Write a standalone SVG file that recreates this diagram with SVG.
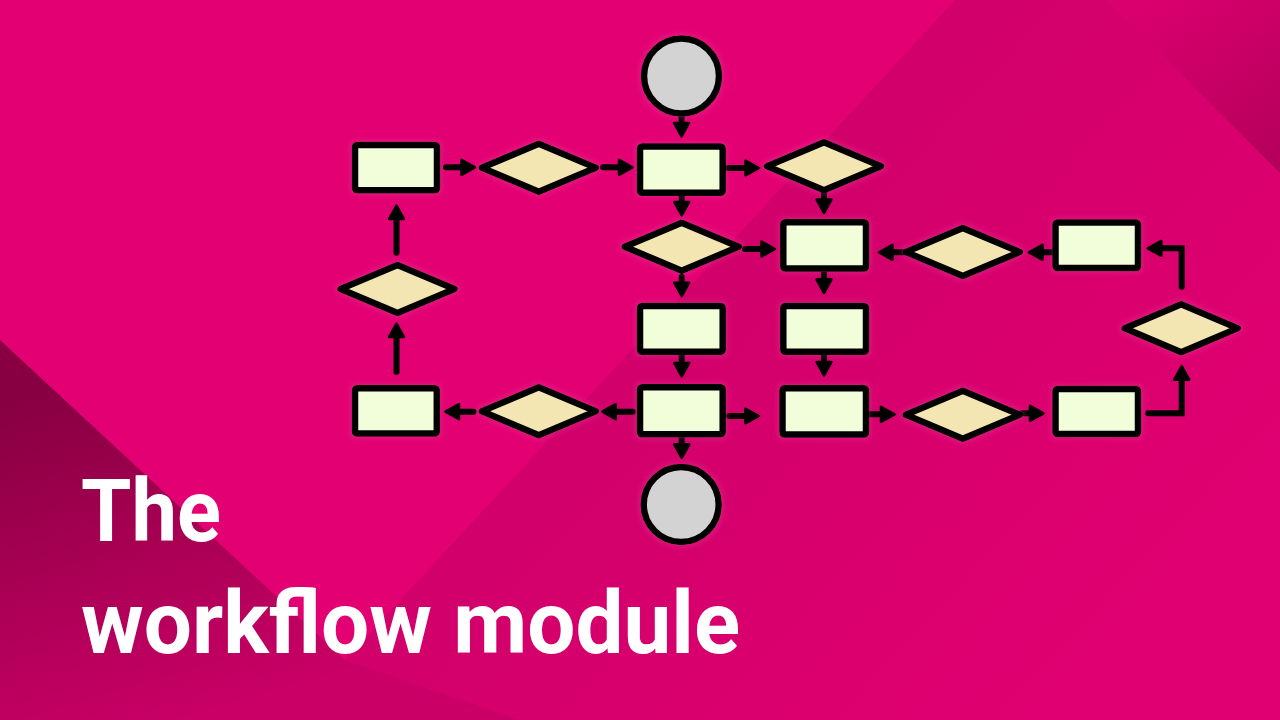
<svg xmlns="http://www.w3.org/2000/svg" width="1280" height="720" viewBox="0 0 1280 720">
  <defs>
    <linearGradient id="gBand" gradientUnits="userSpaceOnUse" x1="650" y1="330" x2="1050" y2="700">
      <stop offset="0" stop-color="#D1006A"/>
      <stop offset="1" stop-color="#E00071"/>
    </linearGradient>
    <linearGradient id="gLeft" gradientUnits="userSpaceOnUse" x1="100" y1="380" x2="200" y2="720">
      <stop offset="0" stop-color="#880042"/>
      <stop offset="1" stop-color="#CA0066"/>
    </linearGradient>
    <linearGradient id="gCorner" gradientUnits="userSpaceOnUse" x1="1150" y1="0" x2="1280" y2="170">
      <stop offset="0" stop-color="#DA006D"/>
      <stop offset="1" stop-color="#B3005B"/>
    </linearGradient>
    <filter id="glow" x="-20%" y="-20%" width="140%" height="140%">
      <feMorphology in="SourceAlpha" operator="dilate" radius="2" result="d"/>
      <feGaussianBlur in="d" stdDeviation="2.5" result="b"/>
      <feFlood flood-color="#FF6FB5" flood-opacity="0.18"/>
      <feComposite in2="b" operator="in" result="g"/>
      <feMerge>
        <feMergeNode in="g"/>
        <feMergeNode in="SourceGraphic"/>
      </feMerge>
    </filter>
    <marker id="ah" markerUnits="userSpaceOnUse" viewBox="-3 -3 20 22" markerWidth="20" markerHeight="22" refX="2" refY="8" orient="auto" overflow="visible">
      <path d="M0,0.5 L13.5,8 L0,15.5 Z" fill="#000" stroke="#000" stroke-width="2.5" stroke-linejoin="round"/>
    </marker>
    <style>
      .rect { fill: #F2FDD9; stroke: #000; stroke-width: 6.5; stroke-linejoin: round; }
      .dia { fill: #F4E6B3; stroke: #000; stroke-width: 6.5; stroke-linejoin: round; }
      .circ { fill: #D3D3D3; stroke: #000; stroke-width: 6.5; }
      .con { fill: none; stroke: #000; stroke-width: 6; stroke-linecap: round; stroke-linejoin: miter; marker-end: url(#ah); }
      .title { fill: #FFFFFF; font-family: Roboto, "Liberation Sans", sans-serif; font-weight: 700; font-size: 88px; }
    </style>
  </defs>

  <g id="background">
    <rect x="0" y="0" width="1280" height="720" fill="#E20072"/>
    <polygon points="955,0 1280,0 1280,720 520,720 345,660" fill="url(#gBand)"/>
    <polygon points="0,340 345,660 520,720 0,720" fill="url(#gLeft)"/>
    <polygon points="1107,0 1280,0 1280,173" fill="url(#gCorner)"/>
  </g>

  <g id="connectors">
    <line class="con" x1="681.5" y1="116.5" x2="681.5" y2="125"/>
    <line class="con" x1="446" y1="167.3" x2="463.5" y2="167.3"/>
    <line class="con" x1="603" y1="167.3" x2="621" y2="167.3"/>
    <line class="con" x1="728.5" y1="168" x2="747.5" y2="168"/>
    <line class="con" x1="681.7" y1="195.5" x2="681.7" y2="204"/>
    <line class="con" x1="824" y1="193" x2="824" y2="201.5"/>
    <line class="con" x1="745" y1="249" x2="763.5" y2="249"/>
    <line class="con" x1="906.5" y1="252.3" x2="890.5" y2="252.3"/>
    <line class="con" x1="1057" y1="252.3" x2="1040.5" y2="252.3"/>
    <path class="con" d="M1181.7,286.7 V248.3 H1159.3"/>
    <line class="con" x1="681.7" y1="276.7" x2="681.7" y2="284.7"/>
    <line class="con" x1="824" y1="271.7" x2="824" y2="281.3"/>
    <line class="con" x1="681.7" y1="355" x2="681.7" y2="365"/>
    <line class="con" x1="824" y1="355" x2="824" y2="364"/>
    <line class="con" x1="632.7" y1="411.7" x2="613.7" y2="411.7"/>
    <line class="con" x1="473.5" y1="411.7" x2="457" y2="411.7"/>
    <line class="con" x1="396.5" y1="372" x2="396.5" y2="335"/>
    <line class="con" x1="396.5" y1="252.7" x2="396.5" y2="217"/>
    <line class="con" x1="729.3" y1="416" x2="747.3" y2="416"/>
    <line class="con" x1="681.7" y1="437.7" x2="681.7" y2="446.3"/>
    <line class="con" x1="869.3" y1="414.3" x2="883" y2="414.3"/>
    <line class="con" x1="1022" y1="413.3" x2="1032" y2="413.3"/>
    <path class="con" d="M1148.3,413.3 H1181.7 V377.7"/>
  </g>

  <g id="nodes" filter="url(#glow)">
    <g id="start"><circle class="circ" cx="681.5" cy="76" r="37.5"/></g>
    <g id="end"><circle class="circ" cx="681.2" cy="504.5" r="37.5"/></g>

    <g id="rectA"><rect class="rect" x="355" y="145" width="82" height="45.3" rx="2"/></g>
    <g id="rectB"><rect class="rect" x="640" y="146.5" width="82.7" height="46.3" rx="2"/></g>
    <g id="rectC"><rect class="rect" x="783.3" y="222.3" width="82.7" height="46.2" rx="2"/></g>
    <g id="rectD"><rect class="rect" x="1055.5" y="222.5" width="82.5" height="45.5" rx="2"/></g>
    <g id="rectE"><rect class="rect" x="640" y="306" width="82.7" height="45.8" rx="2"/></g>
    <g id="rectF"><rect class="rect" x="783.3" y="306" width="82.7" height="45.8" rx="2"/></g>
    <g id="rectG"><rect class="rect" x="355" y="388.2" width="81.8" height="45.3" rx="2"/></g>
    <g id="rectH"><rect class="rect" x="640" y="387.3" width="82.7" height="47" rx="2"/></g>
    <g id="rectI"><rect class="rect" x="782.5" y="388.3" width="83.5" height="46.2" rx="2"/></g>
    <g id="rectJ"><rect class="rect" x="1055.5" y="389" width="82.5" height="45" rx="2"/></g>

    <g id="diamond1"><polygon class="dia" points="481.8,167.7 538.8,143.7 595.8,167.7 538.8,191.7"/></g>
    <g id="diamond2"><polygon class="dia" points="767,166.3 824,142.3 881,166.3 824,190.3"/></g>
    <g id="diamond3"><polygon class="dia" points="624.7,246.7 681.7,222.7 738.7,246.7 681.7,270.7"/></g>
    <g id="diamond4"><polygon class="dia" points="905.8,252 962.8,228 1019.8,252 962.8,276"/></g>
    <g id="diamond5"><polygon class="dia" points="340.5,289 397.5,265 454.5,289 397.5,313"/></g>
    <g id="diamond6"><polygon class="dia" points="1124.7,328.3 1181.2,304.3 1237.7,328.3 1181.2,352.3"/></g>
    <g id="diamond7"><polygon class="dia" points="481.8,411.3 538.8,387.3 595.8,411.3 538.8,435.3"/></g>
    <g id="diamond8"><polygon class="dia" points="905.8,414.7 962.8,390.7 1019.8,414.7 962.8,438.7"/></g>
  </g>

  <g id="title">
    <text class="title" x="81" y="540.5" textLength="140" lengthAdjust="spacingAndGlyphs">The</text>
    <text class="title" x="81" y="653" textLength="659" lengthAdjust="spacingAndGlyphs">workflow module</text>
  </g>
</svg>
